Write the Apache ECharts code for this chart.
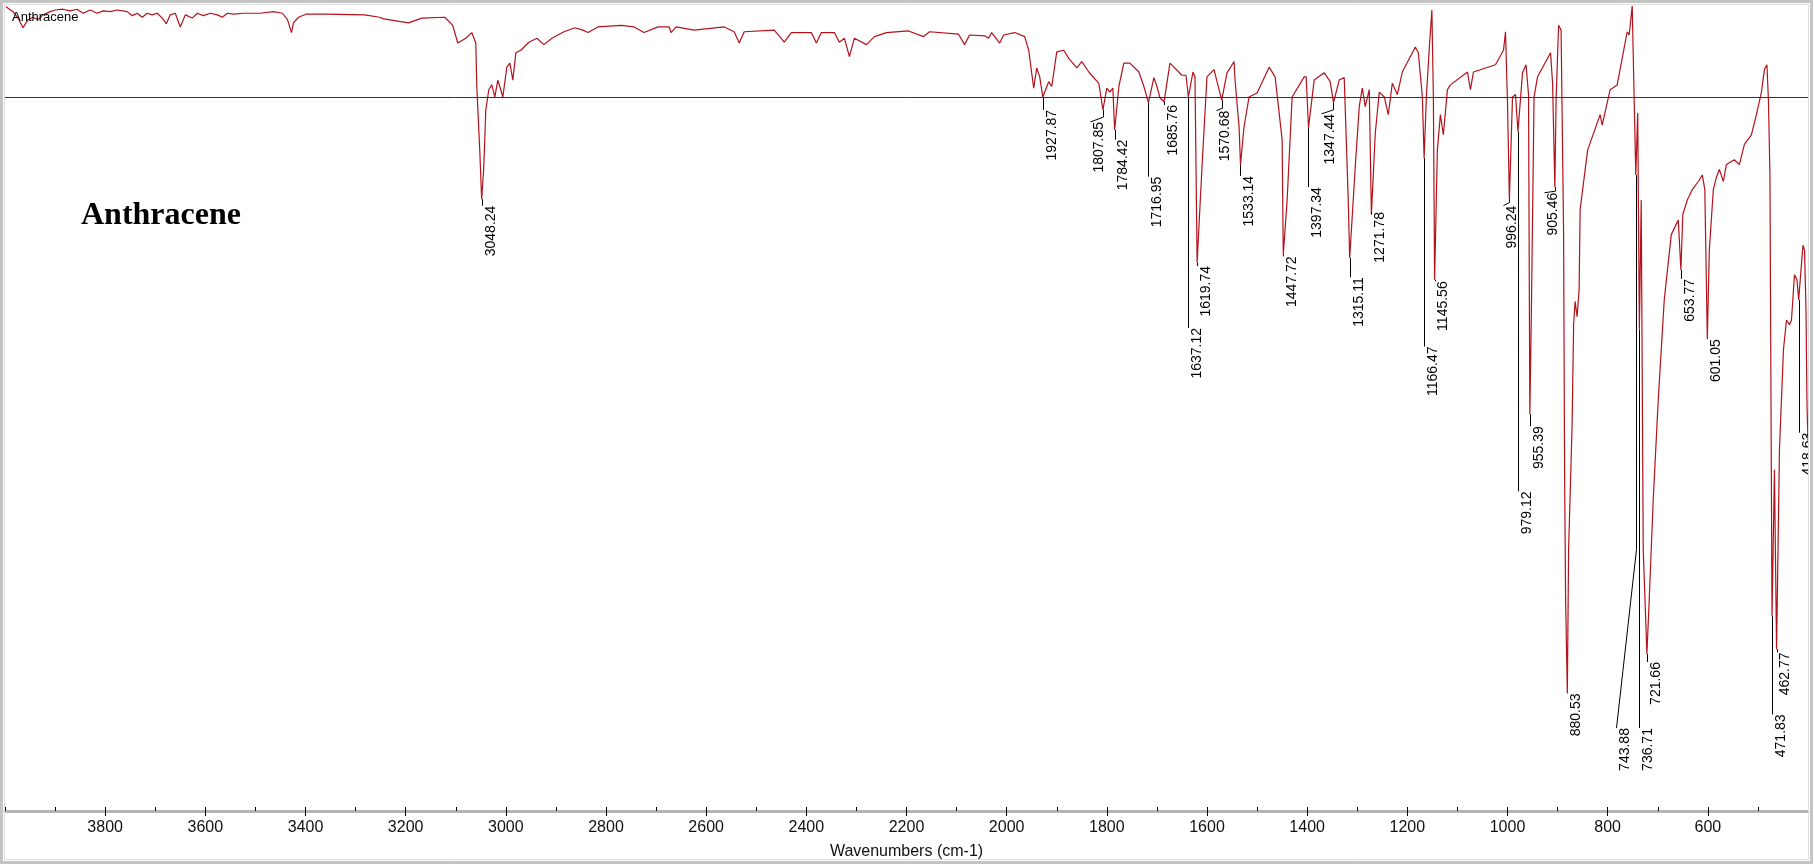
<!DOCTYPE html>
<html>
<head>
<meta charset="utf-8">
<title>Anthracene</title>
<script src="https://cdn.jsdelivr.net/npm/echarts@6/dist/echarts.min.js"></script>
<style>
  html, body { margin: 0; padding: 0; background: #fff; }
  #chart { width: 1814px; height: 865px; }
</style>
</head>
<body>
<div id="chart"></div>
<script>
// IR spectrum, [wavenumber cm-1, %T]
const spectrum = [
  [3998, 99.9], [3984, 99.3], [3974, 98.5], [3964, 97.3], [3954, 98.3], [3944, 98.6], [3934, 98.3], [3924, 98.9], [3910, 99.3], [3900, 99.5],
  [3884, 99.6], [3870, 99.4], [3856, 99.6], [3844, 99.1], [3830, 99.5], [3816, 99.1], [3804, 99.4], [3790, 99.3], [3776, 99.5], [3756, 99.3],
  [3746, 98.8], [3736, 99.1], [3726, 98.6], [3716, 99.1], [3706, 98.9], [3696, 99.1], [3686, 98.5], [3678, 97.8], [3670, 98.9], [3660, 99.1],
  [3650, 97.4], [3640, 98.9], [3626, 98.5], [3616, 99.1], [3604, 98.8], [3590, 99.1], [3576, 98.9], [3566, 98.6], [3556, 99.1], [3544, 99.0],
  [3524, 99.1], [3490, 99.1], [3464, 99.3], [3446, 99.1], [3436, 98.3], [3428, 96.7], [3424, 97.9], [3414, 98.6], [3398, 99.0], [3360, 99.0],
  [3282, 98.9], [3252, 98.6], [3244, 98.4], [3194, 97.9], [3168, 98.5], [3122, 98.6], [3106, 97.6], [3096, 95.4], [3080, 96.0], [3068, 96.7],
  [3060, 95.4], [3058, 90.0], [3052, 82.0], [3048.24, 76.0], [3044, 80.0], [3040, 87.1], [3034, 89.6], [3028, 90.2], [3022, 88.7], [3016, 90.8],
  [3012, 90.0], [3006, 88.7], [2998, 92.4], [2992, 92.9], [2986, 90.8], [2980, 94.2], [2970, 94.5], [2954, 95.5], [2938, 96.0], [2924, 95.2],
  [2908, 96.0], [2884, 96.8], [2862, 97.3], [2846, 97.0], [2836, 96.7], [2816, 97.4], [2770, 97.6], [2744, 97.4], [2724, 96.7], [2696, 97.4],
  [2674, 97.4], [2670, 96.7], [2660, 97.4], [2624, 97.0], [2564, 97.4], [2544, 96.8], [2534, 95.4], [2524, 96.8], [2464, 97.0], [2444, 95.5],
  [2430, 96.7], [2390, 96.7], [2380, 95.4], [2370, 96.7], [2344, 96.7], [2334, 95.5], [2324, 96.0], [2314, 93.7], [2304, 96.0], [2280, 95.2],
  [2264, 96.2], [2240, 96.7], [2196, 96.9], [2166, 96.2], [2154, 96.8], [2096, 96.5], [2084, 95.2], [2074, 96.4], [2044, 96.3], [2036, 96.0],
  [2030, 96.7], [2014, 95.4], [2006, 96.4], [1984, 96.7], [1964, 96.2], [1956, 94.5], [1946, 89.8], [1940, 92.3], [1934, 91.2], [1927.87, 88.7],
  [1916, 90.6], [1910, 90.0], [1900, 94.3], [1886, 94.5], [1876, 93.5], [1860, 92.3], [1850, 93.1], [1836, 91.8], [1816, 90.4], [1807.85, 87.1],
  [1800, 89.8], [1794, 89.3], [1788, 89.8], [1784.42, 84.6], [1776, 90.0], [1766, 92.9], [1754, 92.9], [1736, 91.8], [1726, 90.0], [1716.95, 88.0],
  [1706, 91.1], [1700, 90.0], [1694, 88.6], [1685.76, 88.1], [1674, 92.9], [1650, 91.4], [1642, 91.4], [1637.12, 88.7], [1628, 91.8], [1624, 91.2],
  [1619.74, 68.1], [1610, 80.0], [1600, 91.2], [1586, 92.1], [1570.68, 88.3], [1560, 91.7], [1546, 93.1], [1544, 90.8], [1536, 85.0], [1533.14, 80.3],
  [1526, 85.0], [1516, 88.7], [1500, 89.2], [1476, 92.4], [1464, 91.2], [1450, 83.4], [1447.72, 69.1], [1440, 75.9], [1430, 88.7], [1406, 91.2],
  [1402, 91.2], [1397.34, 84.9], [1386, 90.8], [1366, 91.7], [1354, 90.6], [1347.44, 88.0], [1336, 90.8], [1326, 91.1], [1318, 75.9], [1315.11, 68.7],
  [1304, 80.0], [1296, 87.5], [1290, 89.8], [1284, 87.5], [1276, 89.6], [1271.78, 74.1], [1264, 84.2], [1256, 89.3], [1246, 88.7], [1238, 86.5],
  [1230, 90.4], [1220, 89.0], [1210, 91.8], [1184, 94.9], [1178, 94.2], [1170, 88.7], [1166.47, 81.1], [1162, 88.7], [1156, 94.9], [1151, 99.5],
  [1148, 88.7], [1145.56, 66.0], [1140, 82.1], [1134, 86.5], [1128, 84.0], [1120, 89.6], [1114, 90.2], [1080, 91.8], [1074, 89.6], [1068, 91.8],
  [1024, 92.7], [1008, 94.5], [1004, 96.8], [1000, 88.0], [996.24, 76.0], [990, 88.7], [984, 89.0], [979.12, 84.4], [970, 91.7], [963, 92.7],
  [958, 89.0], [955.39, 49.3], [952, 63.5], [947, 88.7], [940, 91.2], [914, 94.2], [910, 90.4], [905.46, 77.5], [903, 88.3], [898, 97.6],
  [893, 97.0], [888, 71.8], [886, 42.0], [884, 26.3], [880.53, 14.6], [878, 32.5], [871, 48.0], [868, 60.4], [865, 63.3], [861, 61.4],
  [857, 64.8], [855, 74.7], [840, 82.1], [815, 86.5], [811, 85.2], [795, 89.6], [781, 90.2], [761, 96.8], [757, 96.4], [751, 100],
  [743.88, 79.0], [740, 86.7], [736.71, 59.8], [733, 75.9], [729, 32.5], [721.66, 19.5], [717, 26.3], [709, 38.7], [699, 51.1], [687, 63.5],
  [673, 71.6], [659, 73.4], [653.77, 67.2], [650, 74.1], [641, 75.9], [631, 77.2], [619, 78.2], [611, 79.0], [606, 77.2], [601.05, 58.6],
  [597, 69.7], [589, 77.2], [583, 78.7], [577, 79.7], [569, 78.2], [563, 80.3], [547, 80.9], [537, 80.3], [527, 82.8], [513, 84.0],
  [503, 86.5], [493, 89.3], [487, 92.1], [482, 92.7], [479, 88.3], [476, 79.0], [471.83, 24.2], [467, 42.4], [462.77, 20.1], [457, 44.9],
  [449, 57.3], [443, 61.0], [437, 60.4], [433, 61.0], [427, 66.6], [422, 66.0], [418.63, 63.5], [413, 68.0], [410, 70.3], [407, 69.7],
  [404, 62.3], [402, 50.4], [400, 46.0]
]

// picked peaks (cm-1)
const peakWn = [3048.24, 1927.87, 1807.85, 1784.42, 1716.95, 1685.76, 1637.12, 1619.74, 1570.68, 1533.14,
  1447.72, 1397.34, 1347.44, 1315.11, 1271.78, 1166.47, 1145.56, 996.24, 979.12, 955.39,
  905.46, 880.53, 743.88, 736.71, 721.66, 653.77, 601.05, 471.83, 462.77, 418.63]

// where each leader line stops and its text begins (%T)
const labelEndT = [75.2, 87.1, 85.6, 83.4, 78.8, 87.7, 60.0, 67.7, 87.0, 78.9,
  68.9, 77.5, 86.6, 66.3, 74.4, 57.7, 65.8, 75.2, 39.7, 47.8,
  76.8, 14.6, 10.3, 10.3, 18.5, 66.1, 58.6, 12.0, 19.7, 47.0]

// leaders pushed sideways (cm-1), null = straight down
const labelEndWn = [null, null, 1833, null, null, null, null, null, 1582, null,
  null, null, 1372, null, null, null, null, 1009, null, null,
  927, null, 783, null, null, null, null, null, null, null]

// bend of the leader (%T), null = no bend
const labelKneeT = [null, null, 86.2, null, null, null, null, null, 87.3, null,
  null, null, 87.1, null, null, null, null, 75.6, null, null,
  77.0, null, 32.5, null, null, null, null, null, null, null]

const threshold = 88.7

const lineRed = '#b3121c'
const axisFont = '"Liberation Sans Narrow", "Liberation Sans", Arial, sans-serif'
const labelFont = '"Liberation Sans", Arial, sans-serif'

const peakT = peakWn.map(w => {
  const p = spectrum.find(d => d[0] === w)
  return p ? p[1] : 50
})

const myChart = echarts.init(document.getElementById('chart'))

const option = {
  backgroundColor: '#fff',
  animation: false,
  grid: { left: 5, right: 6, top: 6, bottom: 53 },
  xAxis: [{
    type: 'value',
    min: 400,
    max: 4000,
    interval: 200,
    inverse: true,
    name: 'Wavenumbers (cm-1)',
    nameLocation: 'middle',
    nameGap: 33,
    nameTextStyle: { color: '#111', fontSize: 16, fontFamily: axisFont },
    axisLine: { lineStyle: { color: '#b4b4b4', width: 3 } },
    axisTick: { length: 5, lineStyle: { color: '#000', width: 1 } },
    axisLabel: {
      showMinLabel: false,
      showMaxLabel: false,
      margin: 9,
      color: '#111',
      fontSize: 16,
      fontFamily: axisFont,
      formatter: v => String(v)
    },
    splitLine: { show: false }
  }, {
    // short ticks every 100
    type: 'value',
    min: 400,
    max: 4000,
    interval: 100,
    inverse: true,
    position: 'bottom',
    axisLine: { show: false },
    axisTick: { inside: true, length: 4, lineStyle: { color: '#000', width: 1 } },
    axisLabel: { show: false },
    splitLine: { show: false }
  }],
  yAxis: {
    type: 'value',
    min: 0,
    max: 100,
    show: false
  },
  series: [{
    name: 'Anthracene',
    type: 'line',
    data: spectrum,
    showSymbol: false,
    clip: false,
    lineStyle: { color: lineRed, width: 1.2 },
    z: 2,
    markLine: {
      silent: true,
      symbol: 'none',
      label: { show: false },
      lineStyle: { color: '#333', width: 1, type: 'solid' },
      data: [{ yAxis: threshold }]
    }
  }, {
    // peak labels with leader lines
    type: 'custom',
    clip: true,
    z: 3,
    data: peakWn.map((w, i) => [w, peakT[i]]),
    renderItem: function (params, api) {
      const i = params.dataIndex
      const w = peakWn[i]
      const p0 = api.coord([w, peakT[i]])
      const endW = labelEndWn[i] === null ? w : labelEndWn[i]
      const pEnd = api.coord([endW, labelEndT[i]])
      const pts = [p0]
      if (labelKneeT[i] !== null) pts.push(api.coord([w, labelKneeT[i]]))
      pts.push(pEnd)
      return {
        type: 'group',
        children: [{
          type: 'polyline',
          shape: { points: pts.map(p => [Math.round(p[0]) + 0.5, p[1]]) },
          style: { stroke: '#000', lineWidth: 1, fill: null }
        }, {
          type: 'text',
          x: pEnd[0] + 2,
          y: pEnd[1],
          rotation: Math.PI / 2,
          style: {
            text: w.toFixed(2),
            align: 'right',
            verticalAlign: 'top',
            fontSize: 14,
            fontFamily: labelFont,
            fill: '#000'
          }
        }]
      }
    }
  }],
  graphic: [{
    // window frame
    type: 'rect',
    shape: { x: 1.5, y: 1.5, width: 1810, height: 861 },
    style: { fill: null, stroke: '#c4c4c4', lineWidth: 3 },
    silent: true,
    z: 50
  }, {
    type: 'rect',
    shape: { x: 4.5, y: 4.5, width: 1804, height: 855 },
    style: { fill: null, stroke: '#dedede', lineWidth: 1 },
    silent: true,
    z: 50
  }, {
    type: 'text',
    left: 12,
    top: 11,
    style: { text: 'Anthracene', fontSize: 13, fontFamily: labelFont, fill: '#000' },
    z: 60
  }, {
    type: 'text',
    left: 81,
    top: 200,
    style: {
      text: 'Anthracene',
      fontSize: 32,
      fontWeight: 'bold',
      fontFamily: '"Liberation Serif", "Times New Roman", serif',
      fill: '#000'
    },
    z: 60
  }]
}

myChart.setOption(option, true)

window.addEventListener('resize', () => myChart.resize())
</script>
</body>
</html>
